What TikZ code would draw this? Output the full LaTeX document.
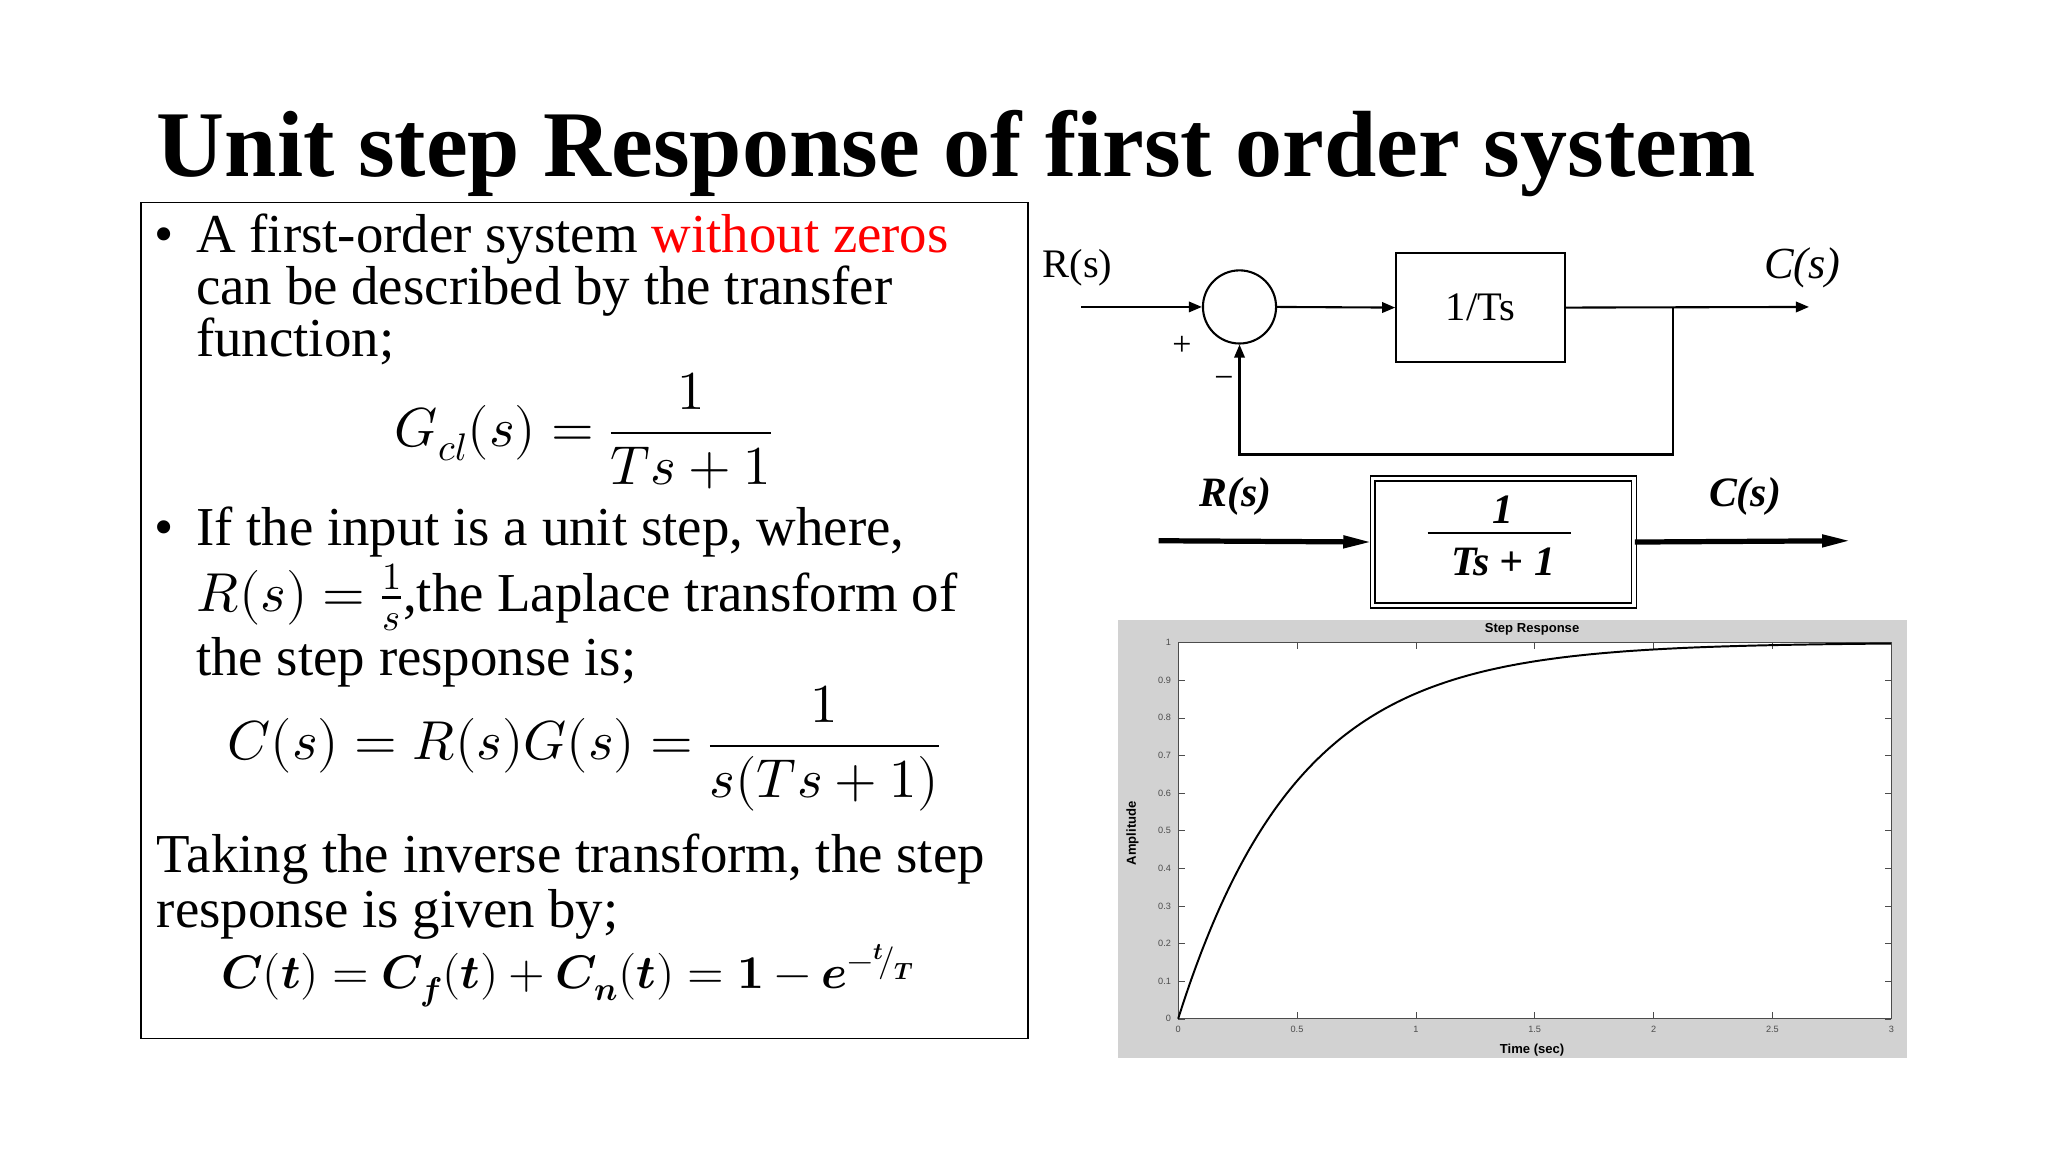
\documentclass[tikz,border=0pt]{standalone}
\usepackage{amsmath}
\usepackage{fontspec}
\usepackage{unicode-math}
\setmainfont{Liberation Serif}
\setsansfont{Liberation Sans}
\setmathfont{Latin Modern Math}
\usetikzlibrary{arrows.meta}
\begin{document}
\begin{tikzpicture}[x=1pt,y=-1pt,
  txt/.style={anchor=base west,inner sep=0pt,font=\fontsize{42}{42}\selectfont},
  thin/.style={line width=1.6pt},
  arr/.style={-{Triangle[length=10pt,width=8pt]},line width=1.6pt},
  tick/.style={font=\sffamily\fontsize{7}{8}\selectfont,gray!60!black}]
\useasboundingbox (0,0) rectangle (1568,882);
\node[anchor=base west,inner sep=0pt,font=\bfseries\fontsize{72}{72}\selectfont] (title) at (120,135) {Unit step Response of first order system};
\draw[line width=1.2pt] (108,155) rectangle (787,795);
\node[txt] (b1) at (118,193) {•};
\node[txt] (l1) at (150,193) {A first-order system \textcolor{red}{without zeros}};
\node[txt] (l2) at (150,233) {can be described by the transfer};
\node[txt] (l3) at (150,273) {function;};
\node[inner sep=0pt,font=\fontsize{42}{42}\selectfont] (eq1) at (447,330) {$G_{cl}(s)=\dfrac{1}{Ts+1}$};
\node[txt] (b2) at (118,418) {•};
\node[txt] (l4) at (150,418) {If the input is a unit step, where,};
\node[txt] (l5) at (150,468) {$R(s)=\frac{1}{s}$,the Laplace transform of};
\node[txt] (l6) at (150,517) {the step response is;};
\node[inner sep=0pt,font=\fontsize{42}{42}\selectfont] (eq2) at (447,573) {$C(s)=R(s)G(s)=\dfrac{1}{s(Ts+1)}$};
\node[txt] (l7) at (120,668) {Taking the inverse transform, the step};
\node[txt] (l8) at (120,710) {response is given by;};
\node[anchor=base,inner sep=0pt,font=\fontsize{36}{38}\selectfont] (eq3) at (435,757) {$\symbfit{C}\symbf{(}\symbfit{t}\symbf{)}=\symbfit{C}_{\symbfit{f}}\symbf{(}\symbfit{t}\symbf{)}+\symbfit{C}_{\symbfit{n}}\symbf{(}\symbfit{t}\symbf{)}=\symbf{1}-\symbfit{e}^{-{}^{\symbfit{t}}\!/_{\symbfit{T}}}$};
% block diagram 1
\node[font=\fontsize{31}{31}\selectfont] (R1) at (825,205) {R(s)};
\node[font=\fontsize{34}{34}\selectfont\itshape] (C1) at (1380,205) {C(s)};
\node[draw,circle,minimum size=56pt,inner sep=0pt,thin] (sum) at (949,235) {};
\node[draw,thin,minimum width=129pt,minimum height=83pt,font=\fontsize{31}{31}\selectfont] (G1) at (1133.5,235.5) {1/Ts};
\coordinate (in1) at (828,235);
\coordinate (out1) at (1385,235);
\coordinate (br) at (1281,235);
\draw[arr] (in1) -- (sum.west);
\draw[arr] (sum.east) -- (G1.west);
\draw[arr] (G1.east) -- (out1);
\draw[arr] (br) -- (1281,348) -| (sum.south);
\node[font=\fontsize{26}{26}\selectfont] (plus) at (905,265) {+};
\node[font=\fontsize{26}{26}\selectfont] (minus) at (937,293) {−};
% block diagram 2
\node[draw,double,double distance=2.5pt,line width=1.2pt,minimum width=200pt,minimum height=97pt] (G2) at (1151,415) {};
\node[font=\bfseries\itshape\fontsize{32}{32}\selectfont] (num) at (1151,390) {1};
\draw[line width=1.6pt] (1093,408) -- (1203,408);
\node[font=\bfseries\itshape\fontsize{32}{32}\selectfont] (den) at (1151,430) {Ts + 1};
\coordinate (in2) at (887,414);
\coordinate (out2) at (1417,414);
\draw[-{Triangle[length=22pt,width=9pt]},line width=4pt] (in2) -- (G2.west);
\draw[-{Triangle[length=22pt,width=9pt]},line width=4pt] (G2.east) -- (out2);
\node[font=\bfseries\itshape\fontsize{32}{32}\selectfont] (R2) at (946,380) {R(s)};
\node[font=\bfseries\itshape\fontsize{32}{32}\selectfont] (C2) at (1336,380) {C(s)};
% plot
\fill[gray!35] (856,475) rectangle (1460,810);
\fill[white] (902,492) rectangle (1448,780);
\draw[gray!60!black,line width=0.6pt] (902,492) rectangle (1448,780);
\foreach \v in {0,1,...,10}{
  \pgfmathsetmacro\yy{780-28.8*\v}
  \draw[gray!60!black] (902,\yy) -- (907,\yy) (1448,\yy) -- (1443,\yy);
  \node[tick,anchor=east] at (900,\yy) {\ifnum\v=0 0\else\ifnum\v=10 1\else 0.\v\fi\fi};
}
\foreach \t/\l in {0/0,0.5/0.5,1/1,1.5/1.5,2/2,2.5/2.5,3/3}{
  \pgfmathsetmacro\xx{902+182*\t}
  \draw[gray!60!black] (\xx,780) -- (\xx,775) (\xx,492) -- (\xx,497);
  \node[tick,anchor=north] at (\xx,782) {\l};
}
\draw[dashed,gray!60!black] (902,492) -- (1448,492);
\draw[line width=1.5pt,domain=0:3,samples=120,smooth] plot ({902+182*\x},{780-288*(1-exp(-2*\x))});
\node[font=\sffamily\bfseries\fontsize{10}{10}\selectfont] (ptitle) at (1173,482) {Step Response};
\node[font=\sffamily\bfseries\fontsize{10}{10}\selectfont] (xlab) at (1173,804) {Time (sec)};
\node[font=\sffamily\bfseries\fontsize{10}{10}\selectfont,rotate=90] (ylab) at (867,638) {Amplitude};
\end{tikzpicture}
\end{document}
